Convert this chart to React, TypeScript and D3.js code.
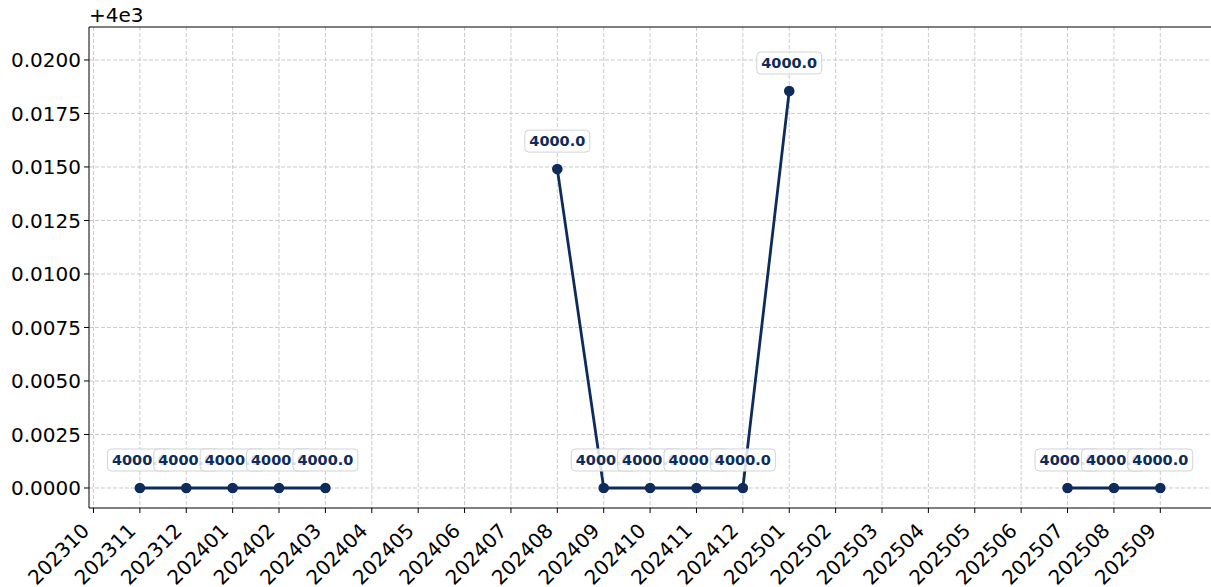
import React, { useEffect, useRef } from "react";
import * as d3 from "d3";

const months: string[] = [
  "202310", "202311", "202312", "202401", "202402", "202403", "202404", "202405",
  "202406", "202407", "202408", "202409", "202410", "202411", "202412", "202501",
  "202502", "202503", "202504", "202505", "202506", "202507", "202508", "202509",
];
const values: (number | null)[] = [
  null, 4000, 4000, 4000, 4000, 4000, null, null,
  null, null, 4000.01490, 4000, 4000, 4000, 4000, 4000.01855,
  null, null, null, null, null, 4000, 4000, 4000,
];
const offset = 4000;
const offsetLabel = "+4e3";
const yTicks: number[] = [0, 0.0025, 0.005, 0.0075, 0.01, 0.0125, 0.015, 0.0175, 0.02];

const W = 1211;
const H = 587;
const left = 89;
const right = 1211;
const top = 27;
const bottom = 508;
const color = "#0f2b5b";
const font = "'DejaVu Sans', sans-serif";

export default function App() {
  const ref = useRef<SVGSVGElement>(null);
  useEffect(() => {
    const svg = d3.select(ref.current);
    svg.selectAll("*").remove();

    const x = d3.scalePoint<string>().domain(months).range([93.5, 1160.3]);
    const y = d3.scaleLinear().domain([-0.000935, 0.02154]).range([bottom, top]);

    const g = svg.append("g");
    // grid
    const grid = g.append("g").attr("stroke", "#c4c4c4")
      .attr("stroke-width", 0.9).attr("stroke-dasharray", "4,2");
    months.forEach((m) => {
      grid.append("line").attr("x1", x(m)!).attr("x2", x(m)!).attr("y1", top).attr("y2", bottom);
    });
    yTicks.forEach((t) => {
      grid.append("line").attr("x1", left).attr("x2", right).attr("y1", y(t)).attr("y2", y(t));
    });

    // spines
    g.append("line").attr("x1", left).attr("x2", left).attr("y1", top).attr("y2", bottom).attr("stroke", "#000").attr("stroke-width", 1);
    g.append("line").attr("x1", left).attr("x2", right).attr("y1", bottom).attr("y2", bottom).attr("stroke", "#000").attr("stroke-width", 1);
    g.append("line").attr("x1", left).attr("x2", right).attr("y1", top).attr("y2", top).attr("stroke", "#000").attr("stroke-width", 1);

    // y ticks
    yTicks.forEach((t) => {
      g.append("line").attr("x1", left - 5).attr("x2", left).attr("y1", y(t)).attr("y2", y(t)).attr("stroke", "#000");
      g.append("text").attr("x", left - 8).attr("y", y(t)).attr("dy", "0.36em")
        .attr("text-anchor", "end").attr("font-family", font).attr("font-size", 20)
        .text(t.toFixed(4));
    });
    g.append("text").attr("x", left).attr("y", 22).attr("font-family", font).attr("font-size", 20).text(offsetLabel);

    // x ticks
    months.forEach((m) => {
      const xp = x(m)!;
      g.append("line").attr("x1", xp).attr("x2", xp).attr("y1", bottom).attr("y2", bottom + 5).attr("stroke", "#000");
      g.append("text").attr("transform", `translate(${xp - 3},${bottom + 24}) rotate(-45)`)
        .attr("text-anchor", "end").attr("font-family", font).attr("font-size", 20)
        .text(m);
    });

    const data = months.map((m, i) => ({ m, v: values[i] }));
    const line = d3.line<{ m: string; v: number | null }>()
      .defined((d) => d.v !== null)
      .x((d) => x(d.m)!)
      .y((d) => y((d.v as number) - offset));
    g.append("path").datum(data).attr("d", line).attr("fill", "none").attr("stroke", color)
      .attr("stroke-width", 2.8).attr("stroke-linejoin", "round");

    data.filter((d) => d.v !== null).forEach((d) => {
      g.append("circle").attr("cx", x(d.m)!).attr("cy", y((d.v as number) - offset)).attr("r", 5.3).attr("fill", color);
    });

    data.filter((d) => d.v !== null).forEach((d) => {
      const cx = x(d.m)!;
      const cy = y((d.v as number) - offset) - 28;
      const lg = g.append("g");
      const rect = lg.append("rect");
      const txt = lg.append("text").attr("x", cx).attr("y", cy).attr("dy", "0.36em")
        .attr("text-anchor", "middle").attr("font-family", font).attr("font-size", 14.5)
        .attr("font-weight", "bold").attr("fill", color).text((d.v as number).toFixed(1));
      const bb = (txt.node() as SVGTextElement).getBBox();
      const pw = 4.5;
      rect.attr("x", cx - bb.width / 2 - pw).attr("y", cy - 11).attr("width", bb.width + 2 * pw)
        .attr("height", 22).attr("rx", 4).attr("fill", "#fff").attr("fill-opacity", 0.85)
        .attr("stroke", "#cfd3d8").attr("stroke-width", 1);
    });
  }, []);
  return (
    <svg ref={ref} width={W} height={H} style={{ position: "absolute", left: 0, top: 0, background: "#fff" }} />
  );
}
